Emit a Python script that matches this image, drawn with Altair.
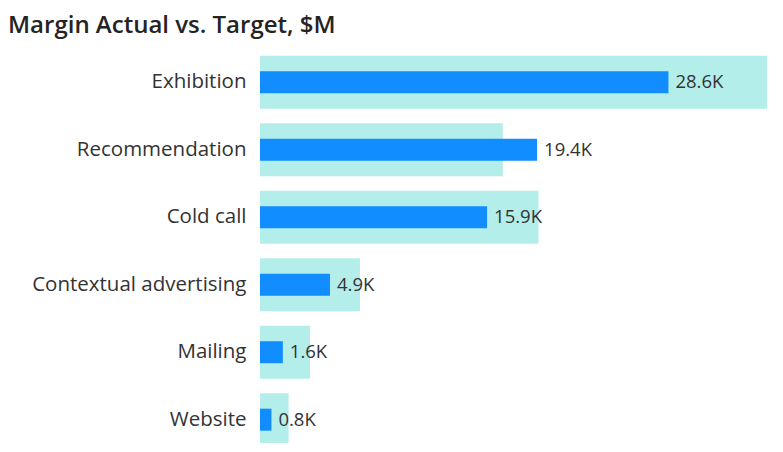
import altair as alt
import pandas as pd

# channel names, top to bottom
categories = ["Exhibition", "Recommendation", "Cold call", "Contextual advertising", "Mailing", "Website"]
# margin in thousands
actual = [28.6, 19.4, 15.9, 4.9, 1.6, 0.8]
target = [35.5, 17.0, 19.5, 7.0, 3.5, 2.0]

df = pd.DataFrame({"category": categories, "actual": actual, "target": target})
df["label"] = df["actual"].map(lambda v: f"{v:.1f}K")

FONT = "Open Sans"
SHIFT = 3

y_enc = alt.Y(
    "category:N",
    sort=categories,
    title=None,
    scale=alt.Scale(paddingInner=0.22, paddingOuter=0),
    axis=alt.Axis(
        ticks=False,
        domain=False,
        grid=False,
        labelPadding=14,
        labelOffset=SHIFT,
        labelFontSize=20.5,
        labelFont=FONT,
        labelColor="#333333",
        labelLimit=400,
    ),
)
x_scale = alt.Scale(domain=[0, 35.5], nice=False, zero=True)

base = alt.Chart(df)

target_bars = base.mark_bar(color="#B3EEEA", size=53, yOffset=SHIFT).encode(
    y=y_enc,
    x=alt.X("target:Q", scale=x_scale, axis=None),
)

actual_bars = base.mark_bar(color="#118DFF", size=22, yOffset=SHIFT).encode(
    y=y_enc,
    x=alt.X("actual:Q", scale=x_scale, axis=None),
)

labels = base.mark_text(
    align="left", baseline="middle", dx=7, yOffset=SHIFT, fontSize=18.5, font=FONT, color="#333333"
).encode(
    y=y_enc,
    x=alt.X("actual:Q", scale=x_scale, axis=None),
    text="label:N",
)

chart = (
    (target_bars + actual_bars + labels)
    .properties(
        width=507,
        height=390,
        autosize=alt.AutoSizeParams(type="none"),
        padding={"left": 252, "top": 45, "right": 8, "bottom": 0},
        title=alt.TitleParams(
            "Margin Actual vs. Target, $M",
            anchor="start",
            frame="group",
            dx=-252,
            offset=15,
            fontSize=24,
            font=FONT,
            fontWeight=600,
            color="#252423",
        ),
    )
    .configure_view(strokeWidth=0)
)

chart.save("out.html", embed_options={"renderer": "svg", "actions": False})
